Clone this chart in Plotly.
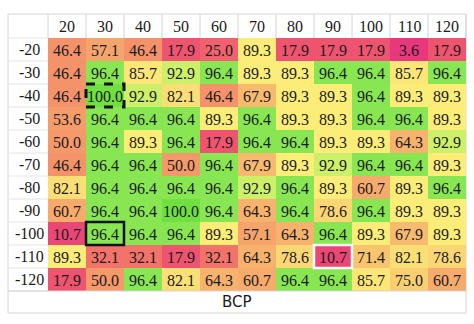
import plotly.graph_objects as go

cols = ["20", "30", "40", "50", "60", "70", "80", "90", "100", "110", "120"]
rows = ["-20", "-30", "-40", "-50", "-60", "-70", "-80", "-90", "-100", "-110", "-120"]

r_m20 = [46.4, 57.1, 46.4, 17.9, 25.0, 89.3, 17.9, 17.9, 17.9, 3.6, 17.9]
r_m30 = [46.4, 96.4, 85.7, 92.9, 96.4, 89.3, 89.3, 96.4, 96.4, 85.7, 96.4]
r_m40 = [46.4, 100.0, 92.9, 82.1, 46.4, 67.9, 89.3, 89.3, 96.4, 89.3, 89.3]
r_m50 = [53.6, 96.4, 96.4, 96.4, 89.3, 96.4, 89.3, 89.3, 96.4, 96.4, 89.3]
r_m60 = [50.0, 96.4, 89.3, 96.4, 17.9, 96.4, 96.4, 89.3, 89.3, 64.3, 92.9]
r_m70 = [46.4, 96.4, 96.4, 50.0, 96.4, 67.9, 89.3, 92.9, 96.4, 96.4, 89.3]
r_m80 = [82.1, 96.4, 96.4, 96.4, 96.4, 92.9, 96.4, 89.3, 60.7, 89.3, 96.4]
r_m90 = [60.7, 96.4, 96.4, 100.0, 96.4, 64.3, 96.4, 78.6, 96.4, 89.3, 89.3]
r_m100 = [10.7, 96.4, 96.4, 96.4, 89.3, 57.1, 64.3, 96.4, 89.3, 67.9, 89.3]
r_m110 = [89.3, 32.1, 32.1, 17.9, 32.1, 64.3, 78.6, 10.7, 71.4, 82.1, 78.6]
r_m120 = [17.9, 50.0, 96.4, 82.1, 64.3, 60.7, 96.4, 96.4, 85.7, 75.0, 60.7]

z = [r_m20, r_m30, r_m40, r_m50, r_m60, r_m70, r_m80, r_m90, r_m100, r_m110, r_m120]

axis_title = "BCP"
dashed_cell = ("-40", "30")
solid_cell = ("-100", "30")
white_cell = ("-110", "90")

colorscale = [
    [0.0, "#e2307c"],
    [0.036, "#e6387a"],
    [0.107, "#ea4676"],
    [0.179, "#ee5470"],
    [0.25, "#f0626e"],
    [0.321, "#f2736a"],
    [0.464, "#f4936a"],
    [0.536, "#f59d6a"],
    [0.607, "#f6ab6c"],
    [0.679, "#f7ba6e"],
    [0.75, "#f9cf72"],
    [0.821, "#fadf76"],
    [0.893, "#fbed78"],
    [0.929, "#cdf06a"],
    [0.964, "#88e652"],
    [1.0, "#70e040"],
]

SERIF = "Liberation Serif"
W, H = 474, 324
L, R, T, B = 48, 8, 38, 33
pw, ph = W - L - R, H - T - B

def px(xp):
    return (xp - L) / pw

def py(yp):
    return (H - B - yp) / ph

xi = list(range(len(cols)))
yi = list(range(len(rows)))

fig = go.Figure(go.Heatmap(
    z=z, x=xi, y=yi,
    colorscale=colorscale, zmin=0, zmax=100, showscale=False,
    text=[[f"{v:.1f}" for v in r] for r in z],
    texttemplate="%{text}",
    textfont=dict(family=SERIF, size=16, color="#1a1a1a"),
    hoverinfo="skip",
))

shapes = []
grid = "#d4d4d4"
shapes.append(dict(type="rect", xref="paper", yref="paper", x0=px(8), x1=1, y0=py(313), y1=py(14),
                   line=dict(color=grid, width=1), layer="below"))
for k in range(len(cols) + 1):
    shapes.append(dict(type="line", xref="paper", yref="paper", x0=k / len(cols), x1=k / len(cols),
                       y0=1, y1=py(14), line=dict(color=grid, width=1)))
for k in range(len(rows) + 1):
    yy = 1 - k / len(rows)
    shapes.append(dict(type="line", xref="paper", yref="paper", x0=px(8), x1=0, y0=yy, y1=yy,
                       line=dict(color="#e4e4e4", width=1)))
shapes.append(dict(type="line", xref="paper", yref="paper", x0=px(8), x1=1, y0=0, y1=0,
                   line=dict(color=grid, width=1)))

def cell_box(cell, color, width, dash):
    ri = rows.index(cell[0]); ci = cols.index(cell[1])
    return dict(type="rect", xref="x", yref="y", x0=ci - 0.5, x1=ci + 0.5, y0=ri - 0.5, y1=ri + 0.5,
                line=dict(color=color, width=width, dash=dash))

shapes.append(cell_box(dashed_cell, "#111111", 3, "dash"))
shapes.append(cell_box(solid_cell, "#111111", 2.5, "solid"))
shapes.append(cell_box(white_cell, "#ffffff", 2.5, "solid"))

annotations = []
for i, r in enumerate(rows):
    annotations.append(dict(xref="paper", yref="y", x=px(29), y=i, text=r, showarrow=False,
                            xanchor="center", yanchor="middle",
                            font=dict(family=SERIF, size=16, color="#1a1a1a")))
for i, c in enumerate(cols):
    annotations.append(dict(xref="x", yref="paper", x=i, y=py(26), text=c, showarrow=False,
                            xanchor="center", yanchor="middle",
                            font=dict(family=SERIF, size=16, color="#1a1a1a")))
annotations.append(dict(xref="paper", yref="paper", x=px(237), y=py(302), text=axis_title, showarrow=False,
                        xanchor="center", yanchor="middle",
                        font=dict(family="DejaVu Sans", size=15, color="#1a1a1a")))

fig.update_layout(
    width=W, height=H,
    margin=dict(l=L, r=R, t=T, b=B),
    paper_bgcolor="white", plot_bgcolor="white",
    xaxis=dict(range=[-0.5, len(cols) - 0.5], showticklabels=False, showgrid=False, zeroline=False,
               ticks="", fixedrange=True),
    yaxis=dict(range=[len(rows) - 0.5, -0.5], showticklabels=False, showgrid=False,
               zeroline=False, ticks="", fixedrange=True),
    shapes=shapes,
    annotations=annotations,
)

fig.write_html("out.html")
